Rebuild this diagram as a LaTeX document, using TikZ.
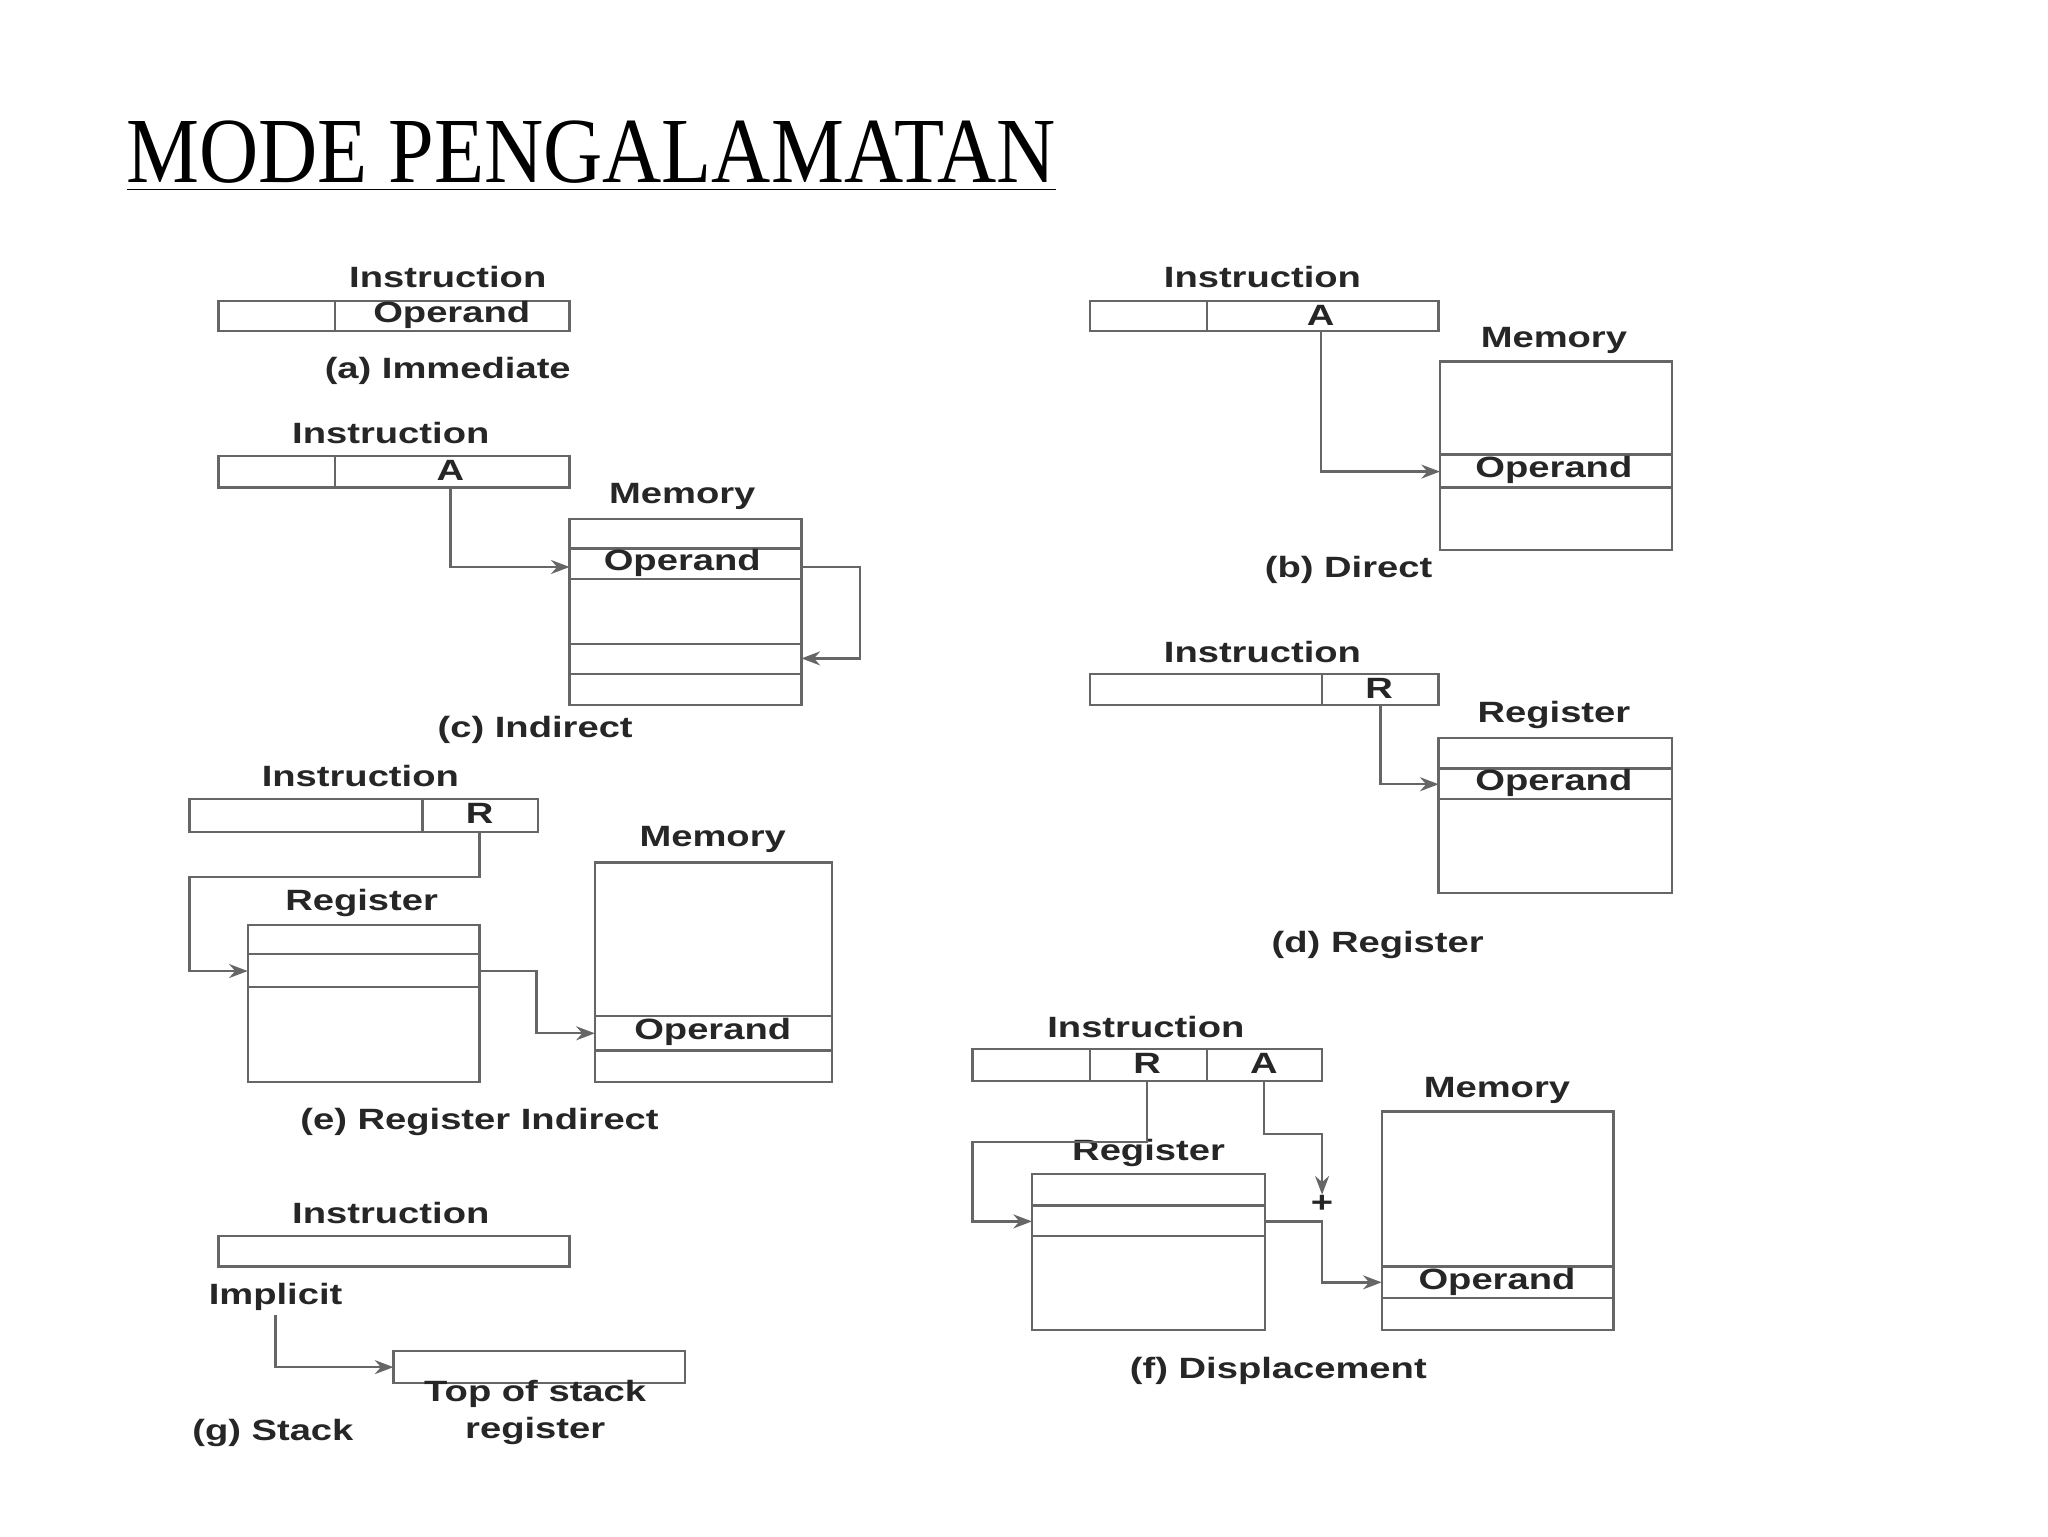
\documentclass[tikz,border=0pt]{standalone}
\usepackage{fontspec}
\setmainfont{Liberation Sans}
\newfontfamily\titlefont{Liberation Serif}
\usetikzlibrary{arrows.meta}
\begin{document}
\begin{tikzpicture}[x=0.01cm,y=-0.01cm,
  bx/.style={draw=black!60,line width=0.5pt},
  ln/.style={draw=black!60,line width=0.5pt},
  ar/.style={draw=black!60,line width=0.5pt,-{Stealth[length=4pt,width=3pt]}},
  lb/.style={font=\bfseries\fontsize{6.3pt}{8pt}\selectfont,inner sep=0pt,text=black!85,xscale=1.3,transform shape}]
\useasboundingbox (0,0) rectangle (1546,1160);
\fill[white] (0,0) rectangle (1546,1160);
\node[anchor=west,inner sep=0pt,font=\titlefont\fontsize{20pt}{24pt}\selectfont,xscale=0.88,transform shape] (title) at (95,118) {\underline{MODE PENGALAMATAN}};
% (a)
\node[lb] (ai) at (338,209) {Instruction};
\draw[bx] (165,227) rectangle (430,250); \draw[ln] (253,227)--(253,250);
\node[lb] (ao) at (341,238) {Operand};
\node[lb] (al) at (338,280) {(a) Immediate};
% (c)
\node[lb] (ci) at (295,327) {Instruction};
\draw[bx] (165,344) rectangle (430,368); \draw[ln] (253,344)--(253,368);
\node[lb] (ca) at (340,355) {A};
\node[lb] (cm) at (515,375) {Memory};
\draw[bx] (430,392) rectangle (605,532);
\foreach \y in {414,437,486,509} \draw[ln] (430,\y)--(605,\y);
\node[lb] (co) at (515,425) {Operand};
\coordinate (c1) at (340,368); \coordinate (c2) at (430,428);
\draw[ar] (c1) |- (c2);
\coordinate (c3) at (605,428); \coordinate (c4) at (605,497);
\draw[ar] (c3) -- (649,428) -- (649,497) -- (c4);
\node[lb] (cl) at (404,551) {(c) Indirect};
% (e)
\node[lb] (ei) at (272,586) {Instruction};
\draw[bx] (143,603) rectangle (406,628); \draw[ln] (319,603)--(319,628);
\node[lb] (er) at (362,614) {R};
\node[lb] (eg) at (273,682) {Register};
\draw[bx] (187,698) rectangle (362,817);
\foreach \y in {720,745} \draw[ln] (187,\y)--(362,\y);
\node[lb] (em) at (538,634) {Memory};
\draw[bx] (449,651) rectangle (628,817);
\foreach \y in {767,793} \draw[ln] (449,\y)--(628,\y);
\node[lb] (eo) at (538,779) {Operand};
\coordinate (e1) at (362,628); \coordinate (e2) at (187,733);
\draw[ar] (e1) -- (362,662) -- (143,662) -- (143,733) -- (e2);
\coordinate (e3) at (362,733); \coordinate (e4) at (449,780);
\draw[ar] (e3) -- (405,733) -- (405,780) -- (e4);
\node[lb] (el) at (362,847) {(e) Register Indirect};
% (g)
\node[lb] (gi) at (295,916) {Instruction};
\draw[bx] (165,933) rectangle (430,956);
\node[lb] (gim) at (208,979) {Implicit};
\draw[bx] (297,1020) rectangle (517,1044);
\coordinate (g1) at (208,993); \coordinate (g2) at (297,1032);
\draw[ar] (g1) |- (g2);
\node[lb,align=center] (gt) at (404,1066) {Top of stack\\register};
\node[lb] (gl) at (206,1082) {(g) Stack};
% (b)
\node[lb] (bi) at (953,209) {Instruction};
\draw[bx] (823,227) rectangle (1086,250); \draw[ln] (911,227)--(911,250);
\node[lb] (ba) at (997,238) {A};
\node[lb] (bm) at (1173,257) {Memory};
\draw[bx] (1087,273) rectangle (1262,415);
\foreach \y in {343,368} \draw[ln] (1087,\y)--(1262,\y);
\node[lb] (bo) at (1173,355) {Operand};
\coordinate (b1) at (997,250); \coordinate (b2) at (1087,356);
\draw[ar] (b1) |- (b2);
\node[lb] (bl) at (1018,430) {(b) Direct};
% (d)
\node[lb] (di) at (953,492) {Instruction};
\draw[bx] (823,509) rectangle (1086,532); \draw[ln] (998,509)--(998,532);
\node[lb] (dr) at (1041,520) {R};
\node[lb] (dg) at (1173,540) {Register};
\draw[bx] (1086,557) rectangle (1262,674);
\foreach \y in {580,603} \draw[ln] (1086,\y)--(1262,\y);
\node[lb] (do) at (1173,591) {Operand};
\coordinate (d1) at (1042,532); \coordinate (d2) at (1086,592);
\draw[ar] (d1) |- (d2);
\node[lb] (dl) at (1040,713) {(d) Register};
% (f)
\node[lb] (fi) at (865,775) {Instruction};
\draw[bx] (734,792) rectangle (998,816);
\draw[ln] (823,792)--(823,816); \draw[ln] (911,792)--(911,816);
\node[lb] (fr) at (866,803) {R};
\node[lb] (fa) at (954,803) {A};
\node[lb] (fg) at (867,870) {Register};
\draw[bx] (779,886) rectangle (955,1004);
\foreach \y in {910,933} \draw[ln] (779,\y)--(955,\y);
\node[lb] (fm) at (1130,823) {Memory};
\draw[bx] (1043,839) rectangle (1218,1004);
\foreach \y in {956,980} \draw[ln] (1043,\y)--(1218,\y);
\node[lb] (fo) at (1130,968) {Operand};
\coordinate (f1) at (866,816); \coordinate (f2) at (779,922);
\draw[ar] (f1) -- (866,862) -- (734,862) -- (734,922) -- (f2);
\node[lb] (fp) at (998,909) {+};
\coordinate (f3) at (954,816);
\draw[ar] (f3) -- (954,856) -- (998,856) -- (fp.north);
\coordinate (f4) at (955,922); \coordinate (f5) at (1043,968);
\draw[ar] (f4) -- (998,922) -- (998,968) -- (f5);
\node[lb] (fl) at (965,1035) {(f) Displacement};
\end{tikzpicture}
\end{document}
